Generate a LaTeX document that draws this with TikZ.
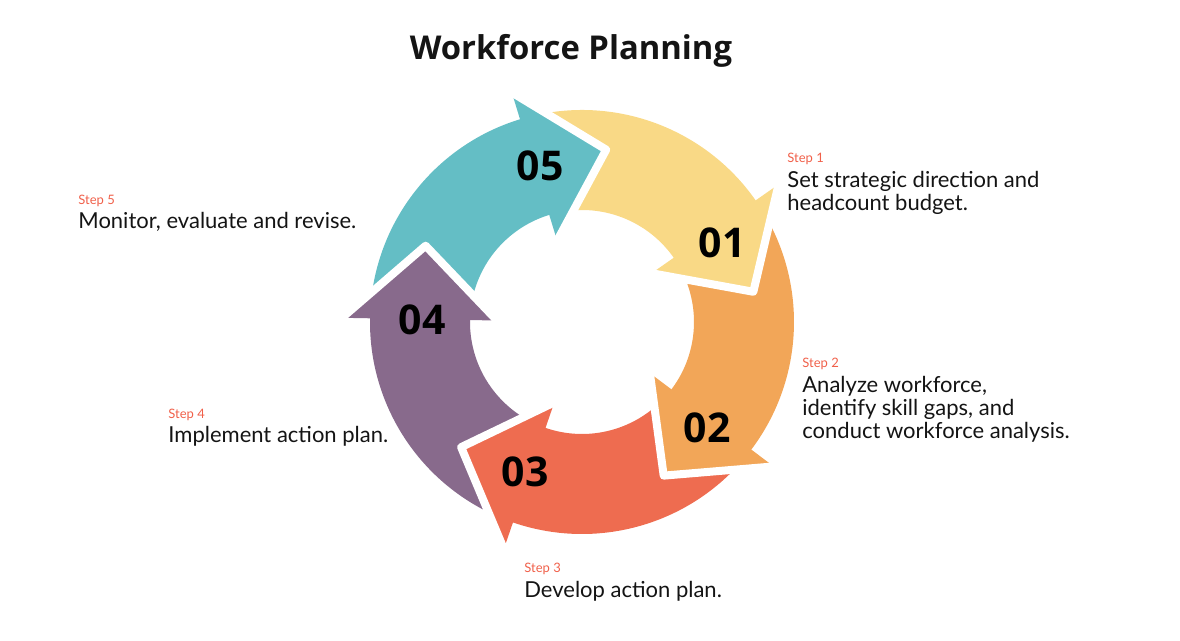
\documentclass[tikz,border=0pt]{standalone}
\usepackage{fontspec}
\setmainfont{Lato}
\newfontfamily\headfont{Open Sans}
\usepackage{tikz}
\usetikzlibrary{positioning}
\definecolor{sunyellow}{RGB}{249, 217, 134}
\definecolor{amber}{RGB}{242, 166, 88}
\definecolor{coral}{RGB}{238, 108, 80}
\definecolor{plum}{RGB}{136, 106, 140}
\definecolor{teal}{RGB}{100, 190, 197}
\definecolor{stepred}{RGB}{240, 96, 74}
\definecolor{ink}{RGB}{20, 20, 20}

\begin{document}
\begin{tikzpicture}[x=0.5pt, y=0.5pt,
  head/.style={rounded corners=3pt},
  gap/.style={draw=white, line width=4pt, line join=round},
  num/.style={font=\headfont\fontsize{20.5}{21}\selectfont\bfseries, text=black},
  title/.style={font=\headfont\fontsize{16.4}{18}\selectfont\bfseries, text=ink, anchor=base},
  steplabel/.style={font=\fontsize{6.5}{7}\selectfont, text=stepred, anchor=base west, inner sep=0pt},
  steptext/.style={font=\fontsize{11}{11.65}\selectfont, text=ink, anchor=base west, align=left, inner sep=0pt}
]
  \useasboundingbox (-582, 322) rectangle (598, -319);

  % Ring bodies
  \fill[sunyellow] (105:212) arc[start angle=105, end angle=33, radius=212] -- (33:112) arc[start angle=33, end angle=105, radius=112] -- cycle;
  \fill[amber] (33:212) arc[start angle=33, end angle=-39, radius=212] -- (-39:112) arc[start angle=-39, end angle=33, radius=112] -- cycle;
  \fill[coral] (-39:212) arc[start angle=-39, end angle=-111, radius=212] -- (-111:112) arc[start angle=-111, end angle=-39, radius=112] -- cycle;
  \fill[plum] (-111:212) arc[start angle=-111, end angle=-183, radius=212] -- (-183:112) arc[start angle=-183, end angle=-111, radius=112] -- cycle;
  \fill[teal] (177:212) arc[start angle=177, end angle=105, radius=212] -- (105:112) arc[start angle=105, end angle=177, radius=112] -- cycle;

  % Arrow heads
  \fill[sunyellow, head] (35:240) -- (10:174) -- (35:85) -- cycle;
  \draw[gap] (35:240) -- (10:174) -- (35:85);
  \fill[amber, head] (-37:240) -- (-62:174) -- (-37:85) -- cycle;
  \draw[gap] (-37:240) -- (-62:174) -- (-37:85);
  \fill[coral, head] (-109:240) -- (-134:174) -- (-109:85) -- cycle;
  \draw[gap] (-109:240) -- (-134:174) -- (-109:85);
  \fill[plum, head] (179:240) -- (154:174) -- (179:85) -- cycle;
  \draw[gap] (179:240) -- (154:174) -- (179:85);
  \fill[teal, head] (107:240) -- (82:174) -- (107:85) -- cycle;
  \draw[gap] (107:240) -- (82:174) -- (107:85);

  % Numbers
  \node[num] (n1) at (140, 79) {01};
  \node[num] (n2) at (125, -106) {02};
  \node[num] (n3) at (-57, -150) {03};
  \node[num] (n4) at (-160, 2) {04};
  \node[num] (n5) at (-42, 156) {05};

  % Title
  \node[title] (ttl) at (-11, 262) {Workforce Planning};

  % Steps (text nodes sit on the baseline of their last line)
  \node[steplabel] (s1) at (205, 159) {Step 1};
  \node[steptext] (t1) at (205, 111) {Set strategic direction and\\headcount budget.};
  \node[steplabel] (s2) at (220, -46) {Step 2};
  \node[steptext] (t2) at (220, -117) {Analyze workforce,\\identify skill gaps, and\\conduct workforce analysis.};
  \node[steplabel] (s3) at (-58, -251) {Step 3};
  \node[steptext] (t3) at (-58, -276) {Develop action plan.};
  \node[steplabel] (s4) at (-414, -97) {Step 4};
  \node[steptext] (t4) at (-414, -121) {Implement action plan.};
  \node[steplabel] (s5) at (-504, 117) {Step 5};
  \node[steptext] (t5) at (-504, 93) {Monitor, evaluate and revise.};
\end{tikzpicture}
\end{document}
